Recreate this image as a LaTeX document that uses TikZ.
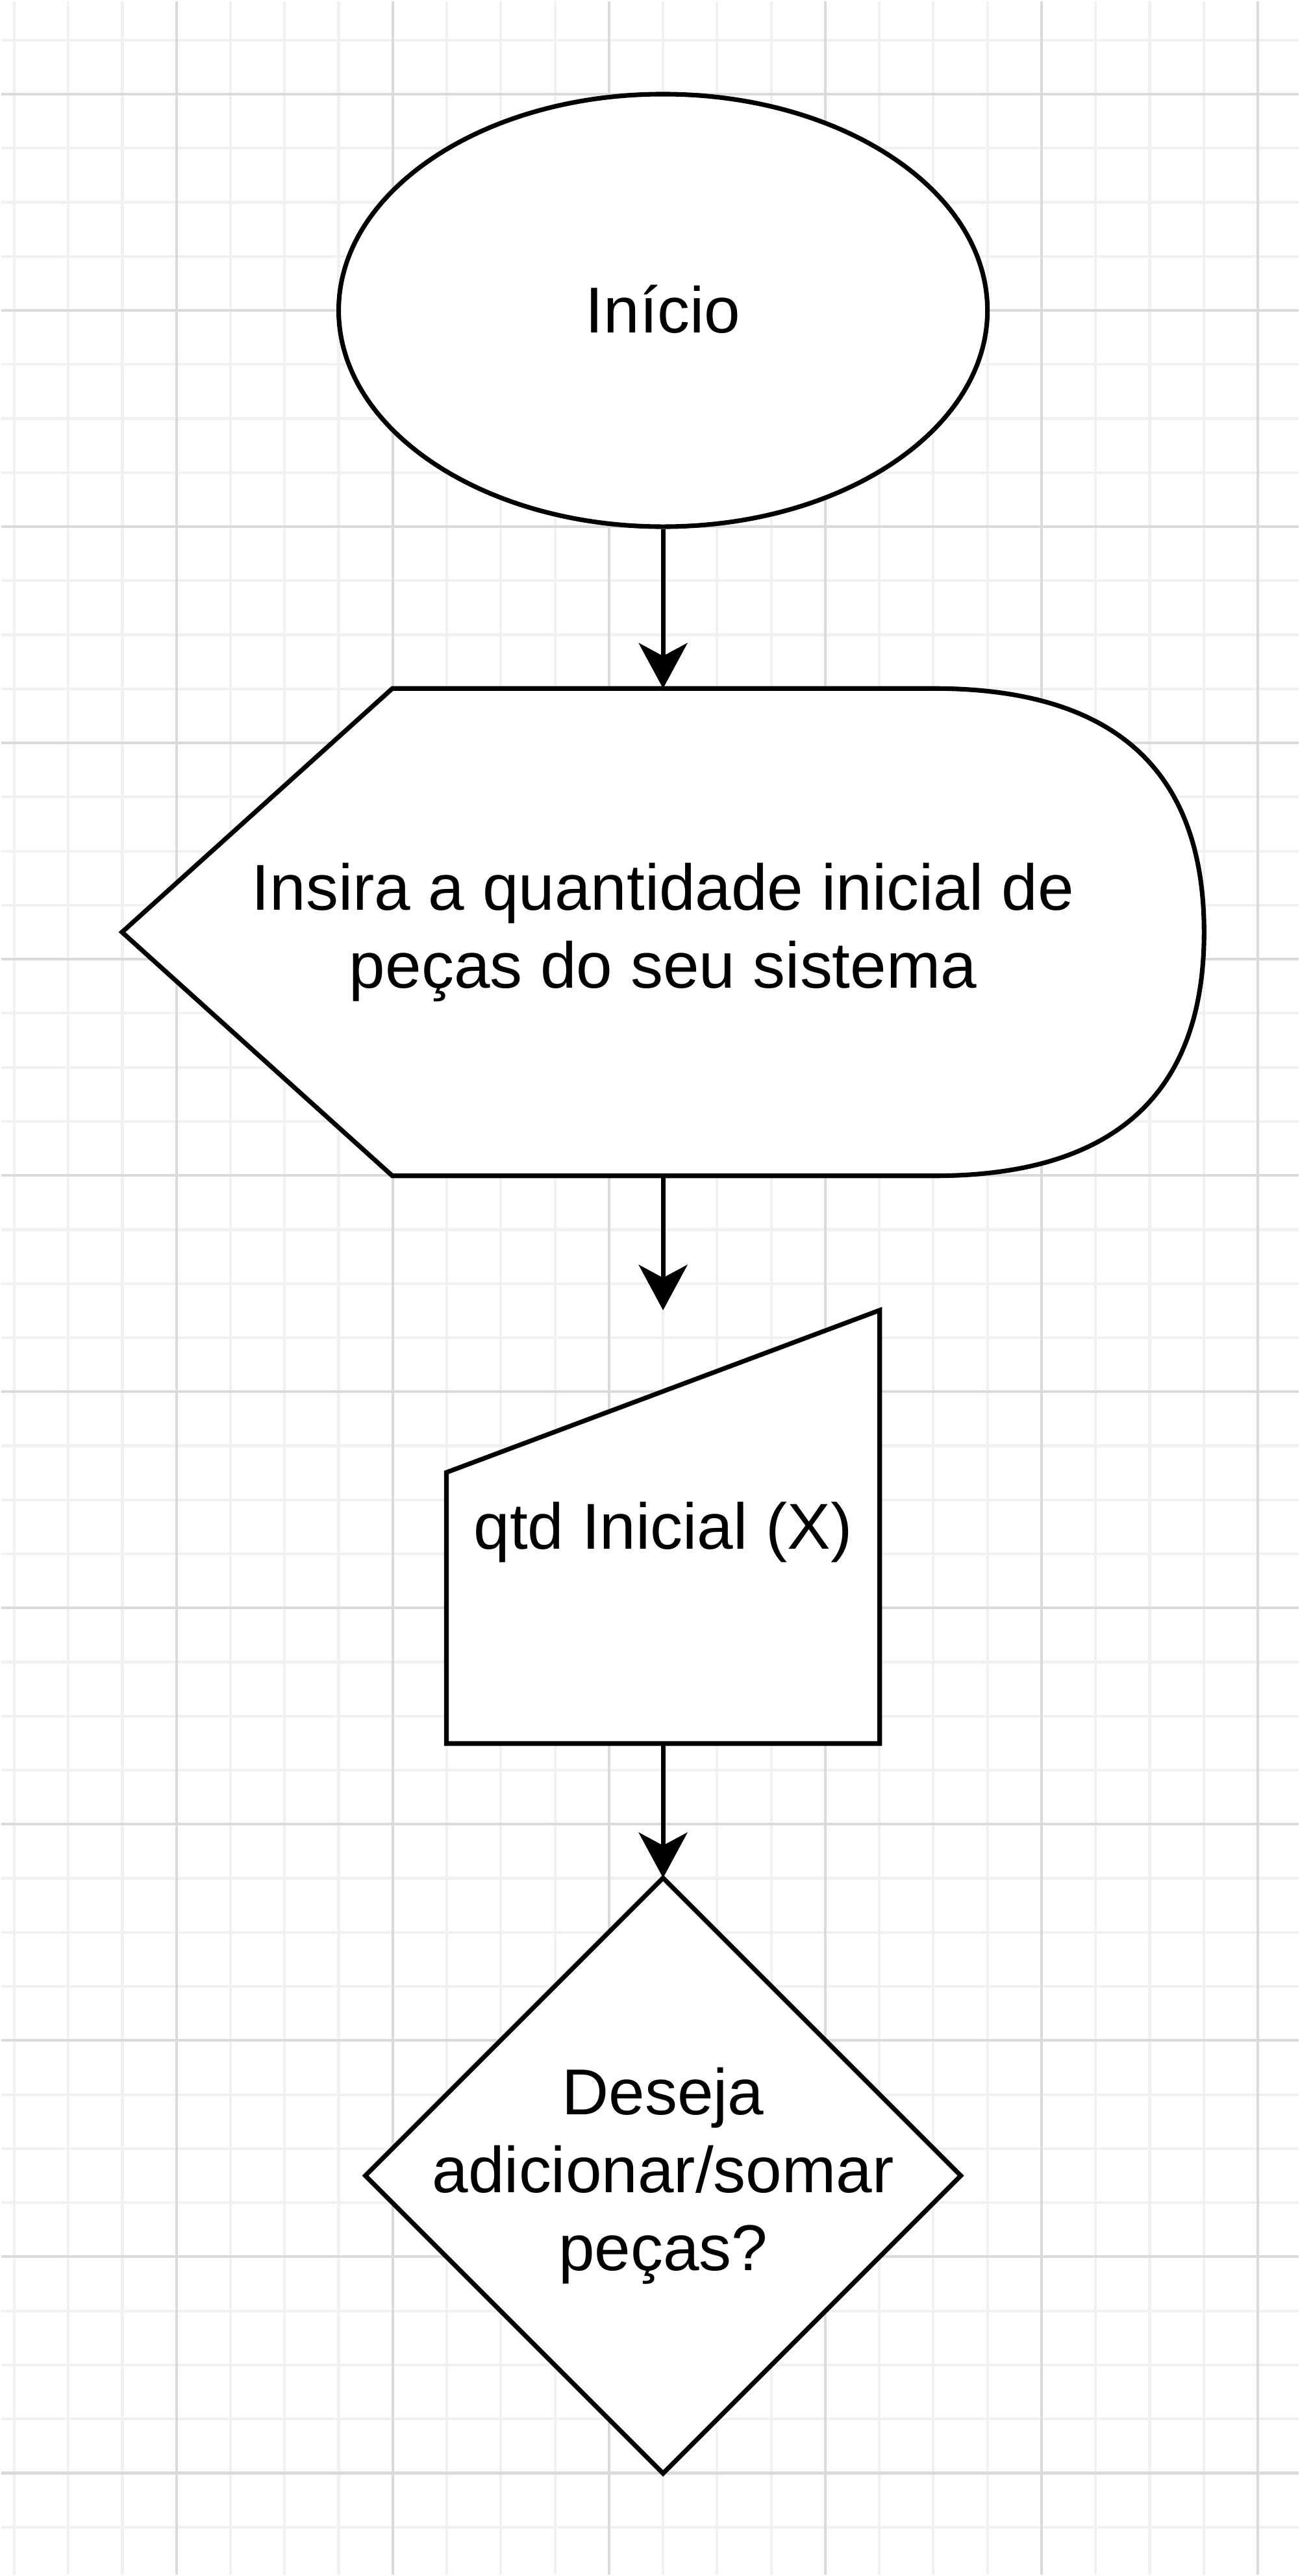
\documentclass[tikz,border=0pt]{standalone}
\usepackage{fontspec}
\setmainfont{Liberation Sans}
\usetikzlibrary{shapes.geometric,arrows.meta,backgrounds}
\definecolor{GridMinor}{HTML}{F1F1F1}
\definecolor{GridMajor}{HTML}{DADADA}
\newcommand\LineStrut{\rule[-0.212em]{0pt}{1.117em}}
\begin{document}
\begin{tikzpicture}[x=1mm, y=-1mm,
		Fine/.style={draw=GridMinor, line width=0.5mm},
		Coarse/.style={draw=GridMajor, line width=0.5mm},
		Term/.style={ellipse, draw, fill=white, line width=0.85mm, minimum width=120mm, minimum height=80mm, inner sep=0pt},
		Frame/.style={rectangle, inner sep=0pt, align=center},
		Outline/.style={draw, fill=white, line width=0.85mm},
		Flow/.style={line width=0.85mm, -{Stealth[length=8.4mm, width=9mm, inset=2.4mm]}},
		every node/.style={font=\fontsize{34.14pt}{40.97pt}\selectfont, execute at begin node=\LineStrut, execute at end node=\LineStrut}
			]
	\begin{scope}[on background layer]
	\fill[white] (-2.39,-7.16) rectangle (237.56,468.8);
	\foreach \gx in {0,10,...,230} \draw[Fine] (\gx,-7.16) -- (\gx,468.8);
	\foreach \gy in {0,10,...,460} \draw[Fine] (-2.39,\gy) -- (237.56,\gy);
	\foreach \gx in {30,70,...,230} \draw[Coarse] (\gx,-7.16) -- (\gx,468.8);
	\foreach \gy in {10,50,...,450} \draw[Coarse] (-2.39,\gy) -- (237.56,\gy);
	\end{scope}

	\node[Term] (inicio) at (120,50) {Início};
	\node[Frame, minimum width=200mm, minimum height=90mm] (mensagem) at (120,165) {Insira a quantidade inicial de\\peças do seu sistema};
	\node[Frame, minimum width=80mm, minimum height=80mm] (entrada) at (120,275) {qtd Inicial (X)};
	\node[Frame, minimum width=110mm, minimum height=110mm] (pergunta) at (120,395) {Deseja\\adicionar/somar\\peças?};

	\begin{scope}[on background layer]
	\draw[Outline] (mensagem.west) -- ([xshift=50mm]mensagem.north west) -- ([xshift=-50mm]mensagem.north east)
		.. controls ([xshift=-16.67mm]mensagem.north east) and ([yshift=30mm]mensagem.east) .. (mensagem.east)
		.. controls ([yshift=-30mm]mensagem.east) and ([xshift=-16.67mm]mensagem.south east) .. ([xshift=-50mm]mensagem.south east)
		-- ([xshift=50mm]mensagem.south west) -- cycle;
	\draw[Outline] (entrada.south west) -- ([yshift=-30mm]entrada.north west) -- (entrada.north east) -- (entrada.south east) -- cycle;
	\draw[Outline] (pergunta.north) -- (pergunta.east) -- (pergunta.south) -- (pergunta.west) -- cycle;
	\end{scope}

	\draw[Flow] (inicio) -- (mensagem);
	\draw[Flow] (mensagem) -- (entrada);
	\draw[Flow] (entrada) -- (pergunta);

	\useasboundingbox (-2.39,-7.16) rectangle (237.56,468.8);
\end{tikzpicture}
\end{document}
